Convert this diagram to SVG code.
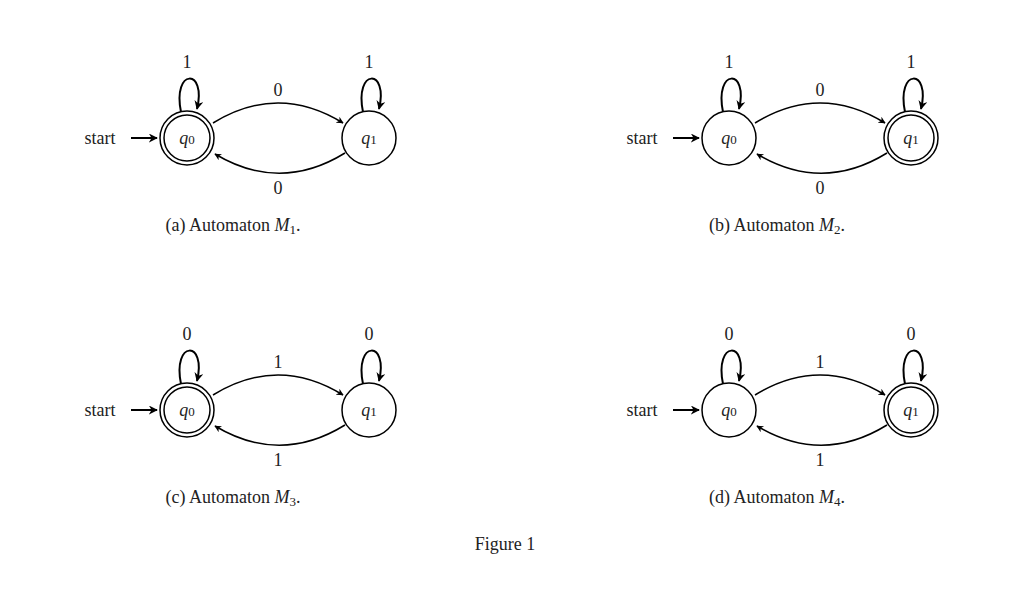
<svg xmlns="http://www.w3.org/2000/svg" width="1024" height="599" viewBox="0 0 1024 599">
<style>
text{font-family:"Liberation Serif","DejaVu Serif",serif;font-size:18px;fill:#222;text-anchor:middle}
.q{font-style:italic}
.st{stroke:#000;stroke-width:1.6;fill:none}
.n{stroke:#000;stroke-width:1.5;fill:#fff}
.e{stroke:#000;stroke-width:1.5;fill:none;marker-end:url(#ah)}
</style>
<defs>
<marker id="ah" viewBox="0 0 10 10" refX="9" refY="5" markerWidth="7" markerHeight="7" markerUnits="userSpaceOnUse" orient="auto">
<path d="M0,0 L10,5 L0,10 L3,5 Z" fill="#000"/>
</marker>
<marker id="ahb" viewBox="0 0 10 10" refX="9" refY="5" markerWidth="9" markerHeight="9" markerUnits="userSpaceOnUse" orient="auto">
<path d="M0,0 L10,5 L0,10 L3,5 Z" fill="#000"/>
</marker>
</defs>
<rect width="1024" height="599" fill="#fff"/>

<!-- (a) -->
<g transform="translate(0,0)">
<g id="edges-a">
<path class="e" style="marker-end:url(#ahb);stroke-width:2" d="M131,138 L157,138"/>
<path class="e" d="M213,123 Q278,83 343,123"/>
<path class="e" d="M345,153 Q280,193 215,154"/>
<path class="e" style="marker-end:url(#ahb);stroke-width:2" d="M181,112 C172,68 207,68 197,109"/>
<path class="e" style="marker-end:url(#ahb);stroke-width:2" d="M363,112 C354,68 389,68 379,109"/>
<text x="187" y="68">1</text><text x="369" y="68">1</text>
<text x="278" y="96">0</text><text x="278" y="194">0</text>
</g>
<text x="100" y="144">start</text>
<g id="a-q0"><circle class="n" cx="187" cy="138" r="27"/><circle class="n" cx="187" cy="138" r="23"/><text x="187" y="144"><tspan class="q">q</tspan><tspan font-size="13">0</tspan></text></g>
<g id="a-q1"><circle class="n" cx="369" cy="138" r="27"/><text x="369" y="144"><tspan class="q">q</tspan><tspan font-size="13">1</tspan></text></g>
<text x="233" y="231">(a) Automaton <tspan class="q">M</tspan><tspan font-size="13" dy="3">1</tspan><tspan dy="-3">.</tspan></text>
</g>

<!-- (b) -->
<g transform="translate(542,0)">
<g id="edges-b">
<path class="e" style="marker-end:url(#ahb);stroke-width:2" d="M131,138 L157,138"/>
<path class="e" d="M213,123 Q278,83 343,123"/>
<path class="e" d="M345,153 Q280,193 215,154"/>
<path class="e" style="marker-end:url(#ahb);stroke-width:2" d="M181,112 C172,68 207,68 197,109"/>
<path class="e" style="marker-end:url(#ahb);stroke-width:2" d="M363,112 C354,68 389,68 379,109"/>
<text x="187" y="68">1</text><text x="369" y="68">1</text>
<text x="278" y="96">0</text><text x="278" y="194">0</text>
</g>
<text x="100" y="144">start</text>
<g id="b-q0"><circle class="n" cx="187" cy="138" r="27"/><text x="187" y="144"><tspan class="q">q</tspan><tspan font-size="13">0</tspan></text></g>
<g id="b-q1"><circle class="n" cx="369" cy="138" r="27"/><circle class="n" cx="369" cy="138" r="23"/><text x="369" y="144"><tspan class="q">q</tspan><tspan font-size="13">1</tspan></text></g>
<text x="235" y="231">(b) Automaton <tspan class="q">M</tspan><tspan font-size="13" dy="3">2</tspan><tspan dy="-3">.</tspan></text>
</g>

<!-- (c) -->
<g transform="translate(0,272)">
<g id="edges-c">
<path class="e" style="marker-end:url(#ahb);stroke-width:2" d="M131,138 L157,138"/>
<path class="e" d="M213,123 Q278,83 343,123"/>
<path class="e" d="M345,153 Q280,193 215,154"/>
<path class="e" style="marker-end:url(#ahb);stroke-width:2" d="M181,112 C172,68 207,68 197,109"/>
<path class="e" style="marker-end:url(#ahb);stroke-width:2" d="M363,112 C354,68 389,68 379,109"/>
<text x="187" y="68">0</text><text x="369" y="68">0</text>
<text x="278" y="96">1</text><text x="278" y="194">1</text>
</g>
<text x="100" y="144">start</text>
<g id="c-q0"><circle class="n" cx="187" cy="138" r="27"/><circle class="n" cx="187" cy="138" r="23"/><text x="187" y="144"><tspan class="q">q</tspan><tspan font-size="13">0</tspan></text></g>
<g id="c-q1"><circle class="n" cx="369" cy="138" r="27"/><text x="369" y="144"><tspan class="q">q</tspan><tspan font-size="13">1</tspan></text></g>
<text x="233" y="231">(c) Automaton <tspan class="q">M</tspan><tspan font-size="13" dy="3">3</tspan><tspan dy="-3">.</tspan></text>
</g>

<!-- (d) -->
<g transform="translate(542,272)">
<g id="edges-d">
<path class="e" style="marker-end:url(#ahb);stroke-width:2" d="M131,138 L157,138"/>
<path class="e" d="M213,123 Q278,83 343,123"/>
<path class="e" d="M345,153 Q280,193 215,154"/>
<path class="e" style="marker-end:url(#ahb);stroke-width:2" d="M181,112 C172,68 207,68 197,109"/>
<path class="e" style="marker-end:url(#ahb);stroke-width:2" d="M363,112 C354,68 389,68 379,109"/>
<text x="187" y="68">0</text><text x="369" y="68">0</text>
<text x="278" y="96">1</text><text x="278" y="194">1</text>
</g>
<text x="100" y="144">start</text>
<g id="d-q0"><circle class="n" cx="187" cy="138" r="27"/><text x="187" y="144"><tspan class="q">q</tspan><tspan font-size="13">0</tspan></text></g>
<g id="d-q1"><circle class="n" cx="369" cy="138" r="27"/><circle class="n" cx="369" cy="138" r="23"/><text x="369" y="144"><tspan class="q">q</tspan><tspan font-size="13">1</tspan></text></g>
<text x="235" y="231">(d) Automaton <tspan class="q">M</tspan><tspan font-size="13" dy="3">4</tspan><tspan dy="-3">.</tspan></text>
</g>

<text x="505" y="550">Figure 1</text>
</svg>
